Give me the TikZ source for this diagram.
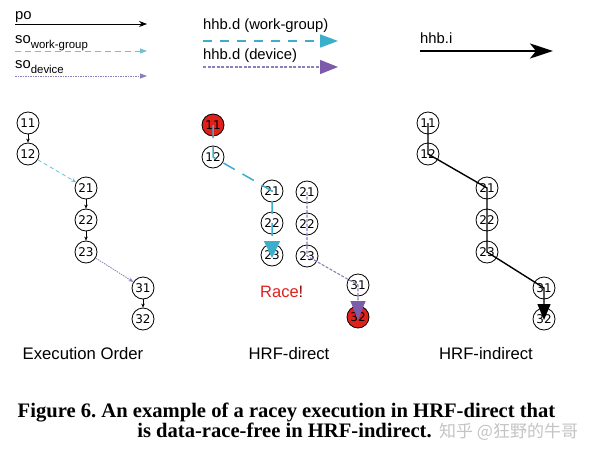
\documentclass[tikz,border=0pt]{standalone}
\usepackage{fontspec}
\setmainfont{Liberation Sans}
\newfontfamily\capfont{Liberation Serif}
\newfontfamily\numfont{DejaVu Sans}
\newfontfamily\cjkfont{Noto Sans CJK SC}
\usetikzlibrary{arrows.meta}
\definecolor{cyanA}{HTML}{6FC0D2}
\definecolor{cyanB}{HTML}{3BAECB}
\definecolor{purA}{HTML}{8C7DBB}
\definecolor{purB}{HTML}{7B5BAA}
\definecolor{raceRed}{HTML}{E0201B}
\definecolor{wmgray}{HTML}{C4C4C4}
\tikzset{
  ev/.style={circle, draw=black, line width=0.8pt, minimum size=22pt, inner sep=0pt,
    font=\numfont\fontsize{12}{12}\selectfont, fill=white},
  evred/.style={ev, fill=raceRed},
  legtext/.style={anchor=base west, inner sep=0pt, font=\fontsize{14.8}{16}\selectfont},
  coltitle/.style={anchor=base, inner sep=0pt, font=\fontsize{16.7}{18}\selectfont},
  poarrow/.style={line width=0.7pt, -{Stealth[length=8pt,width=6pt]}},
  sowg/.style={cyanA, line width=0.8pt, dash pattern=on 6pt off 4pt, -{Triangle[length=7pt,width=5pt]}},
  sodev/.style={purA, line width=0.8pt, dash pattern=on 1.5pt off 1pt, -{Triangle[length=7pt,width=5pt]}},
  hwg/.style={cyanB, line width=1.6pt, dash pattern=on 9pt off 8pt, -{Triangle[length=18pt,width=13pt]}},
  hdev/.style={purA, line width=1.2pt, dash pattern=on 3pt off 1.5pt, -{Triangle[length=18pt,width=14pt,color=purB]}},
  hind/.style={black, line width=1.4pt, -{Triangle[length=16pt,width=13pt]}},
  hindleg/.style={black, line width=2.4pt, -{Stealth[length=23pt,width=15pt,inset=6pt]}},
}
\begin{document}
\frenchspacing
\begin{tikzpicture}[x=1pt,y=-1pt]
\fill[white] (0,0) rectangle (599,455);
\useasboundingbox (0,0) rectangle (599,455);

% ---------- legend ----------
\node[legtext] (lpo) at (15,19.5) {po};
\coordinate (po1) at (15,24); \coordinate (po2) at (147,24);
\draw[poarrow] (po1) -- (po2);
\node[legtext] (lsowg) at (15,43) {so\raisebox{-5pt}{\fontsize{11.4}{12}\selectfont work-group}};
\coordinate (wg1) at (15,51); \coordinate (wg2) at (147,51);
\draw[sowg] (wg1) -- (wg2);
\node[legtext] (lsodev) at (15,68) {so\raisebox{-5pt}{\fontsize{11.4}{12}\selectfont device}};
\coordinate (dv1) at (15,76); \coordinate (dv2) at (147,76);
\draw[sodev] (dv1) -- (dv2);

\node[legtext] (lhwg) at (203,29) {hhb.d (work-group)};
\coordinate (hw1) at (203,41); \coordinate (hw2) at (338,41);
\draw[hwg] (hw1) -- (hw2);
\node[legtext] (lhdev) at (203,59) {hhb.d (device)};
\coordinate (hd1) at (203,67); \coordinate (hd2) at (338,67);
\draw[hdev] (hd1) -- (hd2);

\node[legtext] (lhi) at (420,43) {hhb.i};
\coordinate (hi1) at (420,51); \coordinate (hi2) at (553,51);
\draw[hindleg] (hi1) -- (hi2);

% ---------- Execution Order ----------
\node[ev] (a11) at (28,123) {11};
\node[ev] (a12) at (28,154) {12};
\node[ev] (a21) at (86,188) {21};
\node[ev] (a22) at (86,220) {22};
\node[ev] (a23) at (86,252) {23};
\node[ev] (a31) at (143,288) {31};
\node[ev] (a32) at (143,319) {32};
\draw[line width=0.6pt, -{Stealth[length=4pt,width=3.5pt]}] (a11) -- (a12);
\draw[line width=0.6pt, -{Stealth[length=4pt,width=3.5pt]}] (a21) -- (a22);
\draw[line width=0.6pt, -{Stealth[length=4pt,width=3.5pt]}] (a22) -- (a23);
\draw[line width=0.6pt, -{Stealth[length=4pt,width=3.5pt]}] (a31) -- (a32);
\draw[cyanA, line width=0.8pt, dash pattern=on 4pt off 3pt, -{Stealth[length=5pt,width=4pt]}] (a12) -- (a21);
\draw[purA, line width=0.8pt, dash pattern=on 1.5pt off 1pt, -{Stealth[length=5pt,width=4pt]}] (a23) -- (a31);

% ---------- HRF-direct ----------
\node[evred] (b11) at (213,125) {11};
\node[ev] (b12) at (213,157) {12};
\node[ev] (b21) at (272,191) {21};
\node[ev] (b22) at (272,223) {22};
\node[ev] (b23) at (272,255) {23};
\node[ev] (c21) at (307,192) {21};
\node[ev] (c22) at (307,224) {22};
\node[ev] (c23) at (307,256) {23};
\node[ev] (b31) at (358,285) {31};
\node[evred] (b32) at (358,317) {32};
\draw[hwg, line width=1.5pt, dash pattern=on 13pt off 9pt, -{Triangle[length=17pt,width=16pt]}, shorten >=-3pt]
  (b11.center) -- (b12.center) -- (b21.center) -- (b23.center);
\draw[hdev, line width=1.1pt, dash pattern=on 3pt off 1.5pt, -{Triangle[length=19pt,width=15pt,color=purB]}, shorten >=-3pt]
  (c21.center) -- (c23.center) -- (b31.center) -- (b32.center);
\node[anchor=base west, inner sep=0pt, font=\fontsize{16.5}{18}\selectfont] (race) at (260,297)
  {\textcolor{raceRed}{Race}\textcolor{red!60!black}{!}};

% ---------- HRF-indirect ----------
\node[ev] (d11) at (428,123) {11};
\node[ev] (d12) at (428,154) {12};
\node[ev] (d21) at (487,188) {21};
\node[ev] (d22) at (487,220) {22};
\node[ev] (d23) at (487,252) {23};
\node[ev] (d31) at (544,288) {31};
\node[ev] (d32) at (544,319) {32};
\draw[hind, shorten >=-1pt] (d11.center) -- (d12.center) -- (d21.center) -- (d23.center) -- (d31.center) -- (d32.center);

% ---------- column titles ----------
\node[coltitle] (t1) at (83,359) {Execution Order};
\node[coltitle] (t2) at (289,359) {HRF-direct};
\node[coltitle] (t3) at (486,359) {HRF-indirect};

% ---------- caption ----------
\node[anchor=base, inner sep=0pt, font=\capfont\bfseries\fontsize{20.6}{22}\selectfont] (cap1) at (286.5,417)
  {Figure 6. An example of a racey execution in HRF-direct that};
\node[anchor=base, inner sep=0pt, font=\capfont\bfseries\fontsize{20.6}{22}\selectfont] (cap2) at (284.5,437)
  {is data-race-free in HRF-indirect.};
\node[anchor=base west, inner sep=0pt, text=wmgray, font=\cjkfont\fontsize{17}{18}\selectfont] (wm) at (439,437)
  {知乎 @狂野的牛哥};
\end{tikzpicture}
\end{document}
